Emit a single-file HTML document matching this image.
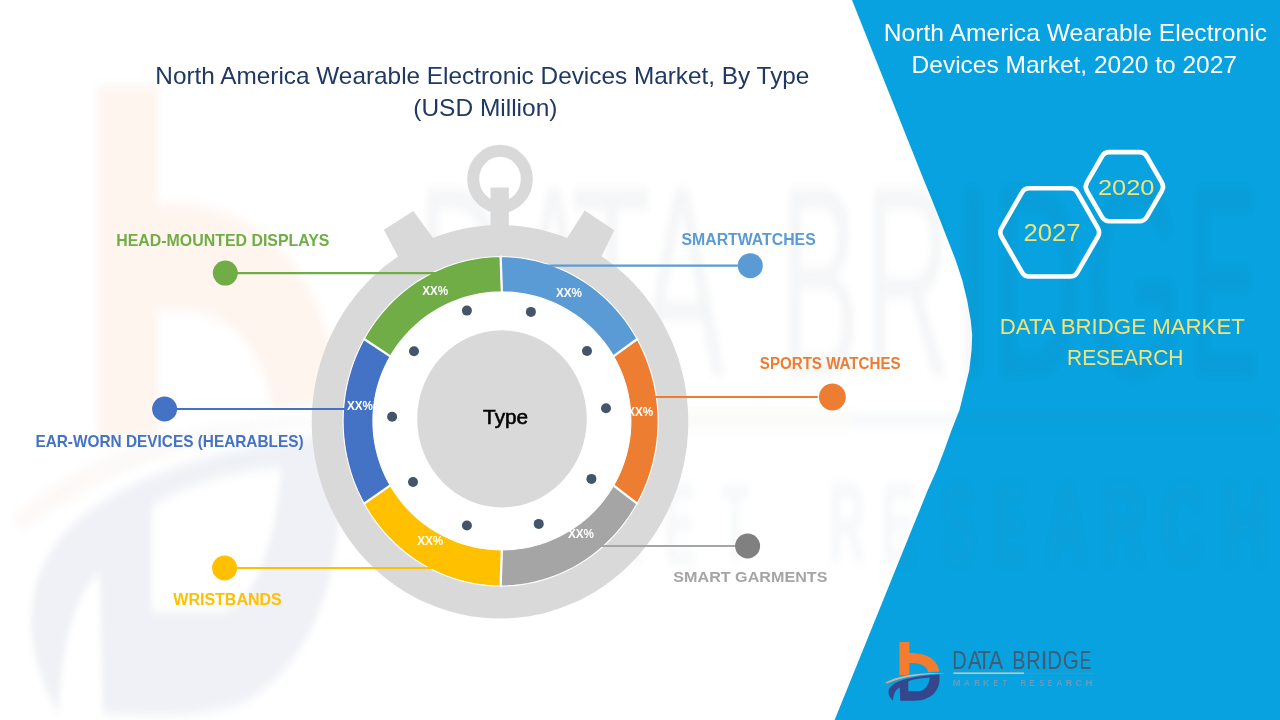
<!DOCTYPE html>
<html><head><meta charset="utf-8"><style>
html,body{margin:0;padding:0;background:#fff;}
svg{display:block;font-family:"Liberation Sans",sans-serif;}
</style></head><body>
<svg width="1280" height="720" viewBox="0 0 1280 720">
<defs><linearGradient id="sw" gradientUnits="userSpaceOnUse" x1="885" y1="0" x2="946" y2="0"><stop offset="0" stop-color="#E9A77A"/><stop offset="0.45" stop-color="#C9B9AE"/><stop offset="1" stop-color="#A9C8DE"/></linearGradient><filter id="blur" x="-10%" y="-10%" width="120%" height="120%"><feGaussianBlur stdDeviation="0.5"/></filter></defs>
<rect width="1280" height="720" fill="#fff"/>
<path d="M1280,0 L852,0 L875.9,60 L891.9,100 L923.8,180 L932,200 L940,220 L947.8,240 L955.6,260 L962.2,280 L967.1,300 L970.7,320 L972.2,335 L971.6,350 L969.3,370 L964.4,390 L959.5,410 L951.6,430 L944.4,450 L936.7,470 L927.8,490 L834.6,720 L1280,720Z" fill="#07A2DF"/>
<g opacity="0.075" filter="url(#blur)" transform="translate(-5343.9,-6783.6) scale(6.05,10.7)">
<path d="M899.4,642 L909.4,642 L909.4,653 C925,652.5 937.5,658.5 939.4,671.6 L928.2,672.2 C927,666.5 921,663 913,663 L909.4,663 L909.4,674.6 L899.4,675.6 Z" fill="#F47C2E"/>
<path d="M885.3,682.4 C898,676 918,672 946,673.2 C922,673.8 902,677 887,683.6 Z" fill="url(#sw)"/>
<path fill-rule="evenodd" fill="#35468C" d="M893,700.6 C888,696 886,689.5 893,684.5 C899,680 915,675.8 939.4,674.6 C940.6,685.5 937,695 924,699.5 C918,701 910,700.9 900.3,700.7 L899.8,687.5 C896,689 893.3,694 893,700.6 Z M908.3,681.3 L908.3,691.2 L920,691.2 C926,690.2 929,684 929.8,677.6 C922,678 914,679.2 908.3,681.3 Z"/>
<g opacity="0.68"><text x="952.27" y="669.1" font-size="25.44" font-weight="normal" fill="#46566C" textLength="14.39" lengthAdjust="spacingAndGlyphs" >D</text><text x="967.96" y="669.1" font-size="25.44" font-weight="normal" fill="#46566C" textLength="13.58" lengthAdjust="spacingAndGlyphs" >A</text><text x="977.61" y="669.1" font-size="25.44" font-weight="normal" fill="#46566C" textLength="13.40" lengthAdjust="spacingAndGlyphs" >T</text><text x="988.76" y="669.1" font-size="25.44" font-weight="normal" fill="#46566C" textLength="14.38" lengthAdjust="spacingAndGlyphs" >A</text><text x="1012.17" y="669.1" font-size="25.44" font-weight="normal" fill="#46566C" textLength="13.28" lengthAdjust="spacingAndGlyphs" >B</text><text x="1026.17" y="669.1" font-size="25.44" font-weight="normal" fill="#46566C" textLength="14.35" lengthAdjust="spacingAndGlyphs" >R</text><text x="1040.53" y="669.1" font-size="25.44" font-weight="normal" fill="#46566C" textLength="7.15" lengthAdjust="spacingAndGlyphs" >I</text><text x="1047.32" y="669.1" font-size="25.44" font-weight="normal" fill="#46566C" textLength="14.75" lengthAdjust="spacingAndGlyphs" >D</text><text x="1062.77" y="669.1" font-size="25.44" font-weight="normal" fill="#46566C" textLength="15.97" lengthAdjust="spacingAndGlyphs" >G</text><text x="1079.78" y="669.1" font-size="25.44" font-weight="normal" fill="#46566C" textLength="11.57" lengthAdjust="spacingAndGlyphs" >E</text></g>
<rect x="953.4" y="672.4" width="70.7" height="1.6" fill="#C4C4B4"/>
<rect x="1024.1" y="672.8" width="70" height="0.9" fill="#5F8FB0"/>
<g opacity="0.85"><text x="952.40" y="686.6" font-size="10.61" font-weight="bold" fill="#6F8FA8" textLength="8.70" lengthAdjust="spacingAndGlyphs" >M</text><text x="963.47" y="686.6" font-size="10.61" font-weight="bold" fill="#6F8FA8" textLength="6.78" lengthAdjust="spacingAndGlyphs" >A</text><text x="973.80" y="686.6" font-size="10.61" font-weight="bold" fill="#6F8FA8" textLength="6.48" lengthAdjust="spacingAndGlyphs" >R</text><text x="982.75" y="686.6" font-size="10.61" font-weight="bold" fill="#6F8FA8" textLength="7.04" lengthAdjust="spacingAndGlyphs" >K</text><text x="993.06" y="686.6" font-size="10.61" font-weight="bold" fill="#6F8FA8" textLength="5.35" lengthAdjust="spacingAndGlyphs" >E</text><text x="1002.51" y="686.6" font-size="10.61" font-weight="bold" fill="#6F8FA8" textLength="4.67" lengthAdjust="spacingAndGlyphs" >T</text><text x="1020.23" y="686.6" font-size="10.61" font-weight="bold" fill="#6F8FA8" textLength="6.14" lengthAdjust="spacingAndGlyphs" >R</text><text x="1028.79" y="686.6" font-size="10.61" font-weight="bold" fill="#6F8FA8" textLength="6.06" lengthAdjust="spacingAndGlyphs" >E</text><text x="1038.86" y="686.6" font-size="10.61" font-weight="bold" fill="#6F8FA8" textLength="5.57" lengthAdjust="spacingAndGlyphs" >S</text><text x="1047.46" y="686.6" font-size="10.61" font-weight="bold" fill="#6F8FA8" textLength="5.35" lengthAdjust="spacingAndGlyphs" >E</text><text x="1056.17" y="686.6" font-size="10.61" font-weight="bold" fill="#6F8FA8" textLength="6.78" lengthAdjust="spacingAndGlyphs" >A</text><text x="1065.34" y="686.6" font-size="10.61" font-weight="bold" fill="#6F8FA8" textLength="7.17" lengthAdjust="spacingAndGlyphs" >R</text><text x="1075.20" y="686.6" font-size="10.61" font-weight="bold" fill="#6F8FA8" textLength="7.07" lengthAdjust="spacingAndGlyphs" >C</text><text x="1085.18" y="686.6" font-size="10.61" font-weight="bold" fill="#6F8FA8" textLength="7.74" lengthAdjust="spacingAndGlyphs" >H</text></g>
</g>

<ellipse cx="500" cy="179" rx="26.8" ry="28.2" fill="none" stroke="#D9D9D9" stroke-width="12"/>
<rect x="490.5" y="187.5" width="18.3" height="50" fill="#D9D9D9"/>
<polygon points="383.9,229.8 413.3,211.1 446.4,256.1 407.8,275.2" fill="#D9D9D9"/>
<polygon points="584.7,210.6 614.2,230.2 592.6,274.8 555.2,256.5" fill="#D9D9D9"/>
<ellipse cx="500" cy="421.8" rx="188.3" ry="196.8" fill="#D9D9D9"/>
<ellipse cx="501.9" cy="420.9" rx="129" ry="129" fill="#fff"/>
<ellipse cx="502" cy="418.9" rx="84.8" ry="88.6" fill="#D9D9D9"/>

<path d="M364.20,338.95 L367.77,332.81 L371.58,326.83 L375.65,321.04 L379.95,315.43 L384.48,310.03 L389.23,304.84 L394.19,299.87 L399.36,295.13 L404.72,290.63 L410.26,286.39 L415.98,282.39 L421.85,278.67 L427.87,275.21 L434.04,272.03 L440.33,269.14 L446.73,266.53 L453.24,264.22 L459.84,262.21 L466.51,260.50 L473.25,259.10 L480.04,258.01 L486.87,257.23 L493.73,256.76 L500.60,256.60 L501.90,291.90 L496.27,292.02 L490.66,292.39 L485.06,293.00 L479.50,293.86 L473.98,294.96 L468.51,296.30 L463.11,297.87 L457.78,299.68 L452.53,301.72 L447.38,303.99 L442.33,306.48 L437.40,309.18 L432.59,312.10 L427.91,315.23 L423.37,318.56 L418.98,322.08 L414.75,325.79 L410.68,329.68 L406.79,333.75 L403.08,337.98 L399.56,342.37 L396.23,346.91 L393.10,351.59 L390.18,356.40Z" fill="#70AD47" stroke="#fff" stroke-width="1.1"/>
<path d="M500.60,256.60 L507.47,256.76 L514.33,257.23 L521.16,258.01 L527.95,259.10 L534.69,260.50 L541.36,262.21 L547.96,264.22 L554.47,266.53 L560.87,269.14 L567.16,272.03 L573.33,275.21 L579.35,278.67 L585.22,282.39 L590.94,286.39 L596.48,290.63 L601.84,295.13 L607.01,299.87 L611.97,304.84 L616.72,310.03 L621.25,315.43 L625.55,321.04 L629.62,326.83 L633.43,332.81 L637.00,338.95 L613.62,356.40 L610.70,351.59 L607.57,346.91 L604.24,342.37 L600.72,337.98 L597.01,333.75 L593.12,329.68 L589.05,325.79 L584.82,322.08 L580.43,318.56 L575.89,315.23 L571.21,312.10 L566.40,309.18 L561.47,306.48 L556.42,303.99 L551.27,301.72 L546.02,299.68 L540.69,297.87 L535.29,296.30 L529.82,294.96 L524.30,293.86 L518.74,293.00 L513.14,292.39 L507.53,292.02 L501.90,291.90Z" fill="#5B9BD5" stroke="#fff" stroke-width="1.1"/>
<path d="M637.00,338.95 L640.30,345.25 L643.34,351.69 L646.11,358.27 L648.60,364.97 L650.81,371.77 L652.73,378.67 L654.37,385.65 L655.71,392.70 L656.75,399.80 L657.50,406.95 L657.95,414.12 L658.10,421.30 L657.95,428.48 L657.50,435.65 L656.75,442.80 L655.71,449.90 L654.37,456.95 L652.73,463.93 L650.81,470.83 L648.60,477.63 L646.11,484.33 L643.34,490.91 L640.30,497.35 L637.00,503.65 L613.62,485.40 L616.32,480.47 L618.81,475.42 L621.08,470.27 L623.12,465.02 L624.93,459.69 L626.50,454.29 L627.84,448.82 L628.94,443.30 L629.80,437.74 L630.41,432.14 L630.78,426.53 L630.90,420.90 L630.78,415.27 L630.41,409.66 L629.80,404.06 L628.94,398.50 L627.84,392.98 L626.50,387.51 L624.93,382.11 L623.12,376.78 L621.08,371.53 L618.81,366.38 L616.32,361.33 L613.62,356.40Z" fill="#ED7D31" stroke="#fff" stroke-width="1.1"/>
<path d="M637.00,503.65 L633.43,509.79 L629.62,515.77 L625.55,521.56 L621.25,527.17 L616.72,532.57 L611.97,537.76 L607.01,542.73 L601.84,547.47 L596.48,551.97 L590.94,556.21 L585.22,560.21 L579.35,563.93 L573.33,567.39 L567.16,570.57 L560.87,573.46 L554.47,576.07 L547.96,578.38 L541.36,580.39 L534.69,582.10 L527.95,583.50 L521.16,584.59 L514.33,585.37 L507.47,585.84 L500.60,586.00 L501.90,549.90 L507.53,549.78 L513.14,549.41 L518.74,548.80 L524.30,547.94 L529.82,546.84 L535.29,545.50 L540.69,543.93 L546.02,542.12 L551.27,540.08 L556.42,537.81 L561.47,535.32 L566.40,532.62 L571.21,529.70 L575.89,526.57 L580.43,523.24 L584.82,519.72 L589.05,516.01 L593.12,512.12 L597.01,508.05 L600.72,503.82 L604.24,499.43 L607.57,494.89 L610.70,490.21 L613.62,485.40Z" fill="#A5A5A5" stroke="#fff" stroke-width="1.1"/>
<path d="M500.60,586.00 L493.73,585.84 L486.87,585.37 L480.04,584.59 L473.25,583.50 L466.51,582.10 L459.84,580.39 L453.24,578.38 L446.73,576.07 L440.33,573.46 L434.04,570.57 L427.87,567.39 L421.85,563.93 L415.98,560.21 L410.26,556.21 L404.72,551.97 L399.36,547.47 L394.19,542.73 L389.23,537.76 L384.48,532.57 L379.95,527.17 L375.65,521.56 L371.58,515.77 L367.77,509.79 L364.20,503.65 L390.18,485.40 L393.10,490.21 L396.23,494.89 L399.56,499.43 L403.08,503.82 L406.79,508.05 L410.68,512.12 L414.75,516.01 L418.98,519.72 L423.37,523.24 L427.91,526.57 L432.59,529.70 L437.40,532.62 L442.33,535.32 L447.38,537.81 L452.53,540.08 L457.78,542.12 L463.11,543.93 L468.51,545.50 L473.98,546.84 L479.50,547.94 L485.06,548.80 L490.66,549.41 L496.27,549.78 L501.90,549.90Z" fill="#FFC000" stroke="#fff" stroke-width="1.1"/>
<path d="M364.20,503.65 L360.90,497.35 L357.86,490.91 L355.09,484.33 L352.60,477.63 L350.39,470.83 L348.47,463.93 L346.83,456.95 L345.49,449.90 L344.45,442.80 L343.70,435.65 L343.25,428.48 L343.10,421.30 L343.25,414.12 L343.70,406.95 L344.45,399.80 L345.49,392.70 L346.83,385.65 L348.47,378.67 L350.39,371.77 L352.60,364.97 L355.09,358.27 L357.86,351.69 L360.90,345.25 L364.20,338.95 L390.18,356.40 L387.48,361.33 L384.99,366.38 L382.72,371.53 L380.68,376.78 L378.87,382.11 L377.30,387.51 L375.96,392.98 L374.86,398.50 L374.00,404.06 L373.39,409.66 L373.02,415.27 L372.90,420.90 L373.02,426.53 L373.39,432.14 L374.00,437.74 L374.86,443.30 L375.96,448.82 L377.30,454.29 L378.87,459.69 L380.68,465.02 L382.72,470.27 L384.99,475.42 L387.48,480.47 L390.18,485.40Z" fill="#4472C4" stroke="#fff" stroke-width="1.1"/>
<line x1="500.60" y1="255.60" x2="501.90" y2="292.90" stroke="#fff" stroke-width="2.3"/>
<line x1="637.87" y1="338.45" x2="612.75" y2="356.90" stroke="#fff" stroke-width="2.3"/>
<line x1="637.87" y1="504.15" x2="612.75" y2="484.90" stroke="#fff" stroke-width="2.3"/>
<line x1="500.60" y1="587.00" x2="501.90" y2="548.90" stroke="#fff" stroke-width="2.3"/>
<line x1="363.33" y1="504.15" x2="391.05" y2="484.90" stroke="#fff" stroke-width="2.3"/>
<line x1="363.33" y1="338.45" x2="391.05" y2="356.90" stroke="#fff" stroke-width="2.3"/>
<circle cx="466.9" cy="310.6" r="5" fill="#44546A"/>
<circle cx="530.9" cy="311.9" r="5" fill="#44546A"/>
<circle cx="414" cy="351.25" r="5" fill="#44546A"/>
<circle cx="587" cy="351" r="5" fill="#44546A"/>
<circle cx="392.1" cy="416.8" r="5" fill="#44546A"/>
<circle cx="606" cy="408.3" r="5" fill="#44546A"/>
<circle cx="413" cy="482" r="5" fill="#44546A"/>
<circle cx="591.4" cy="478.9" r="5" fill="#44546A"/>
<circle cx="466.9" cy="525.5" r="5" fill="#44546A"/>
<circle cx="538.75" cy="523.9" r="5" fill="#44546A"/>
<line x1="225.3" y1="273.1" x2="440" y2="273.1" stroke="#70AD47" stroke-width="2.2"/>
<line x1="750.3" y1="265.7" x2="545" y2="265.7" stroke="#5B9BD5" stroke-width="2.2"/>
<line x1="817.8" y1="397" x2="655" y2="397" stroke="#ED7D31" stroke-width="2.2"/>
<line x1="164.6" y1="409" x2="345" y2="409" stroke="#4472C4" stroke-width="2.2"/>
<line x1="224.6" y1="568" x2="450" y2="568" stroke="#FFC000" stroke-width="2.2"/>
<line x1="747.6" y1="546" x2="600" y2="546" stroke="#A5A5A5" stroke-width="2.2"/>

<circle cx="225.3" cy="273.1" r="12.5" fill="#70AD47"/>
<circle cx="750.3" cy="265.7" r="12.5" fill="#5B9BD5"/>
<circle cx="832.4" cy="397" r="13.4" fill="#ED7D31"/>
<circle cx="164.6" cy="409" r="12.5" fill="#4472C4"/>
<circle cx="224.6" cy="568" r="12.5" fill="#FFC000"/>
<circle cx="747.6" cy="546" r="12.5" fill="#808080"/>

<path d="M1001.54,236.74 Q999.05,232.40 1001.54,228.06 L1021.89,192.59 Q1024.38,188.25 1029.38,188.25 L1070.03,188.25 Q1075.03,188.25 1077.51,192.59 L1097.86,228.06 Q1100.35,232.40 1097.86,236.74 L1077.51,272.21 Q1075.03,276.55 1070.03,276.55 L1029.38,276.55 Q1024.38,276.55 1021.89,272.21 Z" fill="none" stroke="#fff" stroke-width="4.6"/><path d="M1087.00,191.03 Q1084.50,186.70 1087.00,182.37 L1101.95,156.48 Q1104.45,152.15 1109.45,152.15 L1139.35,152.15 Q1144.35,152.15 1146.85,156.48 L1161.80,182.37 Q1164.30,186.70 1161.80,191.03 L1146.85,216.92 Q1144.35,221.25 1139.35,221.25 L1109.45,221.25 Q1104.45,221.25 1101.95,216.92 Z" fill="none" stroke="#fff" stroke-width="4.6"/>
<text x="155.30" y="84" font-size="24" fill="#1F3864" font-weight="normal" textLength="654.10" lengthAdjust="spacingAndGlyphs" >North America Wearable Electronic Devices Market, By Type</text>
<text x="413.30" y="116" font-size="24" fill="#1F3864" font-weight="normal" textLength="144.10" lengthAdjust="spacingAndGlyphs" >(USD Million)</text>
<text x="883.70" y="41" font-size="23.6" fill="#fff" font-weight="normal" textLength="383.30" lengthAdjust="spacingAndGlyphs" >North America Wearable Electronic</text>
<text x="911.60" y="73" font-size="23.6" fill="#fff" font-weight="normal" textLength="325.40" lengthAdjust="spacingAndGlyphs" >Devices Market, 2020 to 2027</text>
<text x="1098.00" y="194.6" font-size="22.5" fill="#F2E27A" font-weight="normal" textLength="56.50" lengthAdjust="spacingAndGlyphs" >2020</text>
<text x="1023.60" y="241" font-size="23" fill="#F2E27A" font-weight="normal" textLength="56.90" lengthAdjust="spacingAndGlyphs" >2027</text>
<text x="999.80" y="333.8" font-size="22" fill="#F2E27A" font-weight="normal" textLength="245.00" lengthAdjust="spacingAndGlyphs" >DATA BRIDGE MARKET</text>
<text x="1067.00" y="365" font-size="22" fill="#F2E27A" font-weight="normal" textLength="116.40" lengthAdjust="spacingAndGlyphs" >RESEARCH</text>
<text x="116.20" y="245.7" font-size="16.3" fill="#70AD47" font-weight="bold" textLength="213.30" lengthAdjust="spacingAndGlyphs" >HEAD-MOUNTED DISPLAYS</text>
<text x="681.50" y="244.7" font-size="16" fill="#5B9BD5" font-weight="bold" textLength="134.20" lengthAdjust="spacingAndGlyphs" >SMARTWATCHES</text>
<text x="759.80" y="368.6" font-size="16" fill="#ED7D31" font-weight="bold" textLength="140.80" lengthAdjust="spacingAndGlyphs" >SPORTS WATCHES</text>
<text x="35.40" y="446.5" font-size="16.2" fill="#4472C4" font-weight="bold" textLength="268.20" lengthAdjust="spacingAndGlyphs" >EAR-WORN DEVICES (HEARABLES)</text>
<text x="173.30" y="604.6" font-size="16" fill="#FFC000" font-weight="bold" textLength="108.40" lengthAdjust="spacingAndGlyphs" >WRISTBANDS</text>
<text x="673.30" y="582.2" font-size="15" fill="#A5A5A5" font-weight="bold" textLength="154.10" lengthAdjust="spacingAndGlyphs" >SMART GARMENTS</text>
<text x="483.10" y="424" font-size="19.8" fill="#000" font-weight="normal" textLength="45.00" lengthAdjust="spacingAndGlyphs" stroke="#000" stroke-width="0.55">Type</text>
<text x="422.2" y="294.8" font-size="12.3" fill="#fff" font-weight="bold" textLength="26" lengthAdjust="spacingAndGlyphs">XX%</text>
<text x="556.0" y="296.8" font-size="12.3" fill="#fff" font-weight="bold" textLength="26" lengthAdjust="spacingAndGlyphs">XX%</text>
<text x="627.2" y="415.7" font-size="12.3" fill="#fff" font-weight="bold" textLength="26" lengthAdjust="spacingAndGlyphs">XX%</text>
<text x="347.0" y="409.7" font-size="12.3" fill="#fff" font-weight="bold" textLength="26" lengthAdjust="spacingAndGlyphs">XX%</text>
<text x="417.2" y="544.8" font-size="12.3" fill="#fff" font-weight="bold" textLength="26" lengthAdjust="spacingAndGlyphs">XX%</text>
<text x="567.9000000000001" y="537.8" font-size="12.3" fill="#fff" font-weight="bold" textLength="26" lengthAdjust="spacingAndGlyphs">XX%</text>

<path d="M899.4,642 L909.4,642 L909.4,653 C925,652.5 937.5,658.5 939.4,671.6 L928.2,672.2 C927,666.5 921,663 913,663 L909.4,663 L909.4,674.6 L899.4,675.6 Z" fill="#F47C2E"/>
<path d="M885.3,682.4 C898,676 918,672 946,673.2 C922,673.8 902,677 887,683.6 Z" fill="url(#sw)"/>
<path fill-rule="evenodd" fill="#35468C" d="M893,700.6 C888,696 886,689.5 893,684.5 C899,680 915,675.8 939.4,674.6 C940.6,685.5 937,695 924,699.5 C918,701 910,700.9 900.3,700.7 L899.8,687.5 C896,689 893.3,694 893,700.6 Z M908.3,681.3 L908.3,691.2 L920,691.2 C926,690.2 929,684 929.8,677.6 C922,678 914,679.2 908.3,681.3 Z"/>
<g opacity="0.9"><text x="952.27" y="669.1" font-size="25.44" font-weight="normal" fill="#46566C" textLength="14.39" lengthAdjust="spacingAndGlyphs" >D</text><text x="967.96" y="669.1" font-size="25.44" font-weight="normal" fill="#46566C" textLength="13.58" lengthAdjust="spacingAndGlyphs" >A</text><text x="977.61" y="669.1" font-size="25.44" font-weight="normal" fill="#46566C" textLength="13.40" lengthAdjust="spacingAndGlyphs" >T</text><text x="988.76" y="669.1" font-size="25.44" font-weight="normal" fill="#46566C" textLength="14.38" lengthAdjust="spacingAndGlyphs" >A</text><text x="1012.17" y="669.1" font-size="25.44" font-weight="normal" fill="#46566C" textLength="13.28" lengthAdjust="spacingAndGlyphs" >B</text><text x="1026.17" y="669.1" font-size="25.44" font-weight="normal" fill="#46566C" textLength="14.35" lengthAdjust="spacingAndGlyphs" >R</text><text x="1040.53" y="669.1" font-size="25.44" font-weight="normal" fill="#46566C" textLength="7.15" lengthAdjust="spacingAndGlyphs" >I</text><text x="1047.32" y="669.1" font-size="25.44" font-weight="normal" fill="#46566C" textLength="14.75" lengthAdjust="spacingAndGlyphs" >D</text><text x="1062.77" y="669.1" font-size="25.44" font-weight="normal" fill="#46566C" textLength="15.97" lengthAdjust="spacingAndGlyphs" >G</text><text x="1079.78" y="669.1" font-size="25.44" font-weight="normal" fill="#46566C" textLength="11.57" lengthAdjust="spacingAndGlyphs" >E</text></g>
<rect x="953.4" y="672.4" width="70.7" height="1.6" fill="#C4C4B4"/>
<rect x="1024.1" y="672.8" width="70" height="0.9" fill="#5F8FB0"/>
<g opacity="0.85"><text x="952.76" y="685.8" font-size="8.87" font-weight="bold" fill="#7C9AB2" textLength="7.98" lengthAdjust="spacingAndGlyphs" >M</text><text x="963.79" y="685.8" font-size="8.87" font-weight="bold" fill="#7C9AB2" textLength="6.14" lengthAdjust="spacingAndGlyphs" >A</text><text x="974.16" y="685.8" font-size="8.87" font-weight="bold" fill="#7C9AB2" textLength="5.80" lengthAdjust="spacingAndGlyphs" >R</text><text x="983.11" y="685.8" font-size="8.87" font-weight="bold" fill="#7C9AB2" textLength="6.37" lengthAdjust="spacingAndGlyphs" >K</text><text x="993.43" y="685.8" font-size="8.87" font-weight="bold" fill="#7C9AB2" textLength="4.64" lengthAdjust="spacingAndGlyphs" >E</text><text x="1002.83" y="685.8" font-size="8.87" font-weight="bold" fill="#7C9AB2" textLength="4.05" lengthAdjust="spacingAndGlyphs" >T</text><text x="1020.59" y="685.8" font-size="8.87" font-weight="bold" fill="#7C9AB2" textLength="5.46" lengthAdjust="spacingAndGlyphs" >R</text><text x="1029.16" y="685.8" font-size="8.87" font-weight="bold" fill="#7C9AB2" textLength="5.35" lengthAdjust="spacingAndGlyphs" >E</text><text x="1039.19" y="685.8" font-size="8.87" font-weight="bold" fill="#7C9AB2" textLength="4.90" lengthAdjust="spacingAndGlyphs" >S</text><text x="1047.83" y="685.8" font-size="8.87" font-weight="bold" fill="#7C9AB2" textLength="4.64" lengthAdjust="spacingAndGlyphs" >E</text><text x="1056.49" y="685.8" font-size="8.87" font-weight="bold" fill="#7C9AB2" textLength="6.14" lengthAdjust="spacingAndGlyphs" >A</text><text x="1065.70" y="685.8" font-size="8.87" font-weight="bold" fill="#7C9AB2" textLength="6.48" lengthAdjust="spacingAndGlyphs" >R</text><text x="1075.54" y="685.8" font-size="8.87" font-weight="bold" fill="#7C9AB2" textLength="6.41" lengthAdjust="spacingAndGlyphs" >C</text><text x="1085.55" y="685.8" font-size="8.87" font-weight="bold" fill="#7C9AB2" textLength="7.00" lengthAdjust="spacingAndGlyphs" >H</text></g>

</svg>
</body></html>
